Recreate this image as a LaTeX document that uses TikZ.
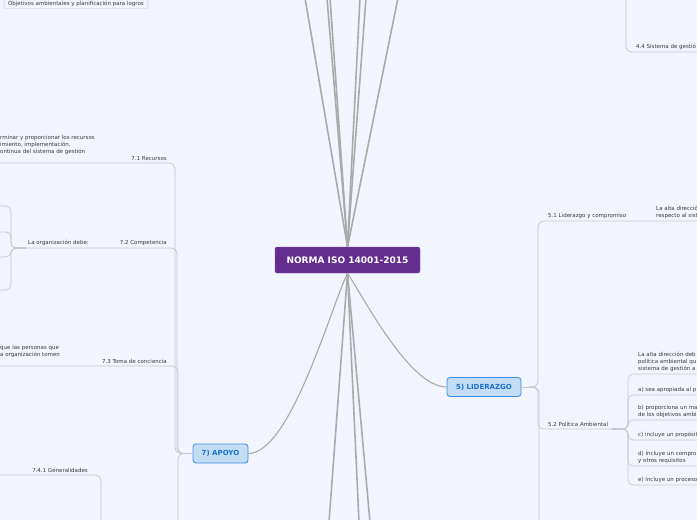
\documentclass[tikz,border=0pt]{standalone}
\usepackage{fontspec}
\setmainfont{DejaVu Sans}
\usetikzlibrary{positioning}

\definecolor{fondo}{HTML}{F2F5FD}
\definecolor{morado}{HTML}{652C90}
\definecolor{celeste}{HTML}{C3DEF4}
\definecolor{azul}{HTML}{3A8EE6}
\definecolor{azultxt}{HTML}{1B6FD2}
\definecolor{gris}{HTML}{AAAAAA}
\definecolor{grisclaro}{HTML}{C6C8CE}
\definecolor{texto}{HTML}{3A3A3A}

\tikzset{
  raiz/.style={fill=morado, draw=morado!80!white, rounded corners=2pt, text=white,
    font=\fontsize{9}{10}\selectfont\bfseries, minimum width=145pt, minimum height=26pt, inner sep=0pt},
  tema1/.style={fill=celeste, draw=azul, line width=0.8pt, rounded corners=3pt, text=azultxt,
    font=\fontsize{7}{8}\selectfont\bfseries, minimum height=19pt, inner sep=0pt},
  tema/.style={font=\fontsize{5.5}{7}\selectfont, text=texto, inner sep=1pt, align=left},
  caja/.style={tema, draw=grisclaro, fill=fondo, rounded corners=2pt, inner xsep=4pt, inner ysep=2.5pt},
  tronco/.style={draw=gris, line width=1.6pt},
  curva/.style={draw=gris, line width=1.1pt},
  linea/.style={draw=grisclaro, line width=0.7pt, rounded corners=6pt},
  nudo/.style={draw=grisclaro, line width=1.4pt}
}

\begin{document}
\begin{tikzpicture}[x=1pt, y=-1pt]
  \useasboundingbox (0,0) rectangle (697,520);
  \fill[fondo] (0,0) rectangle (697,520);
  \clip (0,0) rectangle (697,520);

  % nodos principales
  \node[raiz] (raiz) at (347.5,260) {NORMA ISO 14001-2015};
  \node[tema1, minimum width=55pt] (apoyo) at (220.5,453.5) {7) APOYO};
  \node[tema1, minimum width=74pt] (lider) at (484,387) {5) LIDERAZGO};

  % ramas que salen del centro
  \foreach \x [count=\i] in {305,327,330,360,366,398} {
    \coordinate (arriba\i) at (\x,-2);
    \draw[tronco] (raiz.north) -- (arriba\i);
  }
  \foreach \x [count=\i] in {329,359,370} {
    \coordinate (abajo\i) at (\x,522);
    \draw[tronco] (raiz.south) -- (abajo\i);
  }
  \draw[curva] (raiz.south) .. controls (330,310) and (290,453.5) .. (apoyo.east);
  \draw[curva] (raiz.south) .. controls (365,300) and (410,387) .. (lider.west);

  % arriba
  \node[caja, anchor=east] (objetivos) at (148,3.5) {Objetivos ambientales y planificación para logros};
  \coordinate (s44) at (699,52);
  \draw[linea] (626,-3) |- (s44);
  \node[tema, anchor=south west] (n44) at (635,51) {4.4 Sistema de gestió};

  % 7) APOYO
  \coordinate (j7) at (186,453.5);
  \draw[linea] (apoyo.west) -- (j7);
  \coordinate (s71) at (-2,163);
  \coordinate (s72) at (26,248);
  \coordinate (s73) at (-2,366);
  \coordinate (s74) at (178,522);
  \draw[linea] (j7) -| (175,163) -- (s71);
  \draw[linea] (j7) -| (177,248) -- (s72);
  \draw[linea] (j7) -| (178,366) -- (s73);
  \draw[linea] (j7) -| (s74);
  \node[tema, anchor=south east] (n71) at (168,162) {7.1 Recursos};
  \node[tema, anchor=south east] (n72) at (168,247) {7.2 Competencia};
  \node[tema, anchor=south east] (n73) at (168,365) {7.3 Toma de conciencia};
  \node[tema, anchor=south west] (n71a) at (-1,156) {rminar y proporcionar los recursos\\imiento, implementación,\\ontinua del sistema de gestión};
  \node[tema, anchor=south west] (n72a) at (27,247) {La organización debe:};
  \node[tema, anchor=south west] (n73a) at (-1,359) {que las personas que\\a organización tomen};

  % hijos de "La organizacion debe:"
  \coordinate (j72) at (15,248);
  \draw[nudo] (s72) -- (j72);
  \foreach \y in {206,232,257,290}
    \draw[linea, rounded corners=5pt] (j72) -| (11,\y) -- (-2,\y);

  % 7.4.1
  \coordinate (s741) at (-2,475);
  \draw[linea] (s741) -| (101,522);
  \node[tema, anchor=south east] (n741) at (89,474) {7.4.1 Generalidades};

  % 5) LIDERAZGO
  \coordinate (j5) at (529,387);
  \coordinate (s51) at (699,221);
  \coordinate (s52) at (612,429);
  \coordinate (s53) at (539,522);
  \draw[linea] (lider.east) -- (j5);
  \draw[linea] (j5) -| (538,221) -- (s51);
  \draw[linea] (j5) -| (538,429) -- (s52);
  \draw[linea] (j5) -| (s53);
  \node[tema, anchor=south west] (n51) at (547,220) {5.1 Liderazgo y compromiso};
  \node[tema, anchor=south west] (n51a) at (655,220) {La alta direcció\\respecto al sist};
  \node[tema, anchor=south west] (n52) at (547,428) {5.2 Política Ambiental};

  % hijos de 5.2
  \coordinate (j52) at (622,429);
  \draw[nudo] (s52) -- (j52);
  \foreach \y in {374,395,420,440,466,485}
    \draw[linea, rounded corners=5pt] (j52) -| (628,\y) -- (699,\y);
  \node[tema, anchor=south west] (p0) at (637,373) {La alta dirección deb\\política ambiental qu\\sistema de gestión a};
  \node[tema, anchor=south west] (pa) at (637,394) {a) sea apropiada al p};
  \node[tema, anchor=south west] (pb) at (637,419) {b) proporciona un ma\\de los objetivos ambi};
  \node[tema, anchor=south west] (pc) at (637,439) {c) incluye un propósit};
  \node[tema, anchor=south west] (pd) at (637,465) {d) incluye un compro\\y otros requisitos};
  \node[tema, anchor=south west] (pe) at (637,484) {e) incluye un proceso};
\end{tikzpicture}
\end{document}
